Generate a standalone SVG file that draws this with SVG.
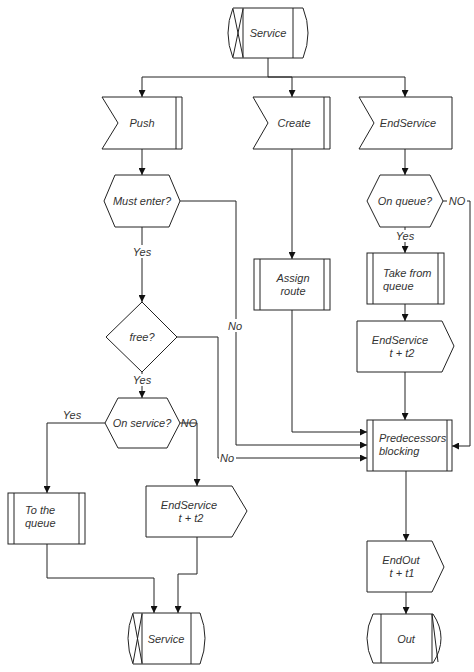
<svg xmlns="http://www.w3.org/2000/svg" width="474" height="672" viewBox="0 0 474 672">
<defs>
<marker id="arr" viewBox="0 0 10 10" refX="10" refY="5" markerWidth="7" markerHeight="7" markerUnits="userSpaceOnUse" orient="auto">
<path d="M0,0 L10,5 L0,10 Z" fill="#111"/>
</marker>
<style>
.s{fill:#fff;stroke:#222;stroke-width:1}
.l{fill:none;stroke:#222;stroke-width:1}
.c{fill:none;stroke:#222;stroke-width:1;marker-end:url(#arr)}
text{font-family:"Liberation Sans",Arial,sans-serif;font-size:11px;font-style:italic;fill:#333}
.m{text-anchor:middle}
.bg{fill:#fff;stroke:none}
</style>
</defs>
<rect width="474" height="672" fill="#fff"/>

<g id="connectors">
<path class="c" d="M268,58 V77 H142 V97"/>
<path class="c" d="M268,77 H292 V97"/>
<path class="c" d="M268,77 H405 V97"/>
<path class="c" d="M142,149 V175"/>
<path class="c" d="M142,227 V302"/>
<path class="c" d="M180,201 H236 V445 H367"/>
<path class="c" d="M142,372 V398"/>
<path class="c" d="M177,337 H218 V458 H367"/>
<path class="c" d="M105,423 H47 V493"/>
<path class="c" d="M180,423 H197 V486"/>
<path class="c" d="M292,149 V259"/>
<path class="c" d="M292,310 V432 H367"/>
<path class="c" d="M405,149 V175"/>
<path class="c" d="M405,227 V253"/>
<path class="c" d="M443,201 H470 V446 H452"/>
<path class="c" d="M405,304 V321"/>
<path class="c" d="M405,372 V420"/>
<path class="c" d="M406,471 V541"/>
<path class="c" d="M406,592 V614"/>
<path class="c" d="M47,544 V578 H154 V613"/>
<path class="c" d="M197,537 V574 H178 V613"/>
<rect class="bg" x="131" y="245" width="22" height="13"/>
<text class="m" x="142" y="256">Yes</text>
<rect class="bg" x="226" y="319" width="18" height="13"/>
<text class="m" x="235" y="330">No</text>
<rect class="bg" x="131" y="374" width="22" height="12"/>
<text class="m" x="142" y="384">Yes</text>
<rect class="bg" x="61" y="409" width="22" height="12"/>
<text class="m" x="72" y="419">Yes</text>
<text class="m" x="189" y="427">NO</text>
<rect class="bg" x="219" y="452" width="17" height="12"/>
<text class="m" x="227" y="462">No</text>
<rect class="bg" x="394" y="230" width="22" height="12"/>
<text class="m" x="405" y="240">Yes</text>
<rect class="bg" x="447" y="195" width="20" height="12"/>
<text class="m" x="457" y="205">NO</text>
</g>

<g id="service_top">
<path class="s" d="M233,8 H303 Q313,33 303,58 H233 Q223,33 233,8 Z"/>
<path class="l" d="M243,8 V58 M293,8 V58 M233,9 L243,57 M243,9 L233,57"/>
<text class="m" x="268" y="37">Service</text>
</g>

<g id="push">
<polygon class="s" points="102,97 182,97 182,149 102,149 118,123"/>
<line class="l" x1="176" y1="97" x2="176" y2="149"/>
<text class="m" x="142" y="127">Push</text>
</g>

<g id="create">
<polygon class="s" points="253,97 330,97 330,149 253,149 268,123"/>
<line class="l" x1="324" y1="97" x2="324" y2="149"/>
<text class="m" x="294" y="127">Create</text>
</g>

<g id="endservice">
<polygon class="s" points="359,97 452,97 452,149 359,149 374,123"/>
<text class="m" x="408" y="127">EndService</text>
</g>

<g id="must_enter">
<polygon class="s" points="104,201 115,175 169,175 180,201 169,227 115,227"/>
<text class="m" x="142" y="205">Must enter?</text>
</g>

<g id="free">
<polygon class="s" points="142,302 177,337 142,372 106,337"/>
<text class="m" x="142" y="341">free?</text>
</g>

<g id="on_service">
<polygon class="s" points="105,423 118,398 167,398 180,423 167,448 118,448"/>
<text class="m" x="142" y="427">On service?</text>
</g>

<g id="on_queue">
<polygon class="s" points="367,201 380,175 430,175 443,201 430,227 380,227"/>
<text class="m" x="405" y="205">On queue?</text>
</g>

<g id="assign_route">
<rect class="s" x="254" y="259" width="76" height="51"/>
<path class="l" d="M260,259 V310 M324,259 V310"/>
<text class="m" x="293" y="282">Assign</text>
<text class="m" x="293" y="295">route</text>
</g>

<g id="take_from_queue">
<rect class="s" x="367" y="253" width="77" height="51"/>
<path class="l" d="M373,253 V304 M438,253 V304"/>
<text x="383" y="277">Take from</text>
<text x="383" y="290">queue</text>
</g>

<g id="endservice_t2_right">
<polygon class="s" points="357,321 442,321 454,346 442,372 357,372"/>
<text class="m" x="400" y="344">EndService</text>
<text class="m" x="402" y="357">t + t2</text>
</g>

<g id="predecessors">
<rect class="s" x="367" y="420" width="85" height="51"/>
<path class="l" d="M373,420 V471 M447,420 V471"/>
<text x="379" y="442">Predecessors</text>
<text x="379" y="455">blocking</text>
</g>

<g id="to_the_queue">
<rect class="s" x="8" y="493" width="77" height="51"/>
<path class="l" d="M14,493 V544 M79,493 V544"/>
<text x="25" y="514">To the</text>
<text x="25" y="527">queue</text>
</g>

<g id="endservice_t2_left">
<polygon class="s" points="146,486 232,486 247,511 232,537 146,537"/>
<text class="m" x="189" y="509">EndService</text>
<text class="m" x="191" y="522">t + t2</text>
</g>

<g id="service_bottom">
<path class="s" d="M133,613 H200 Q210,638 200,664 H133 Q123,638 133,613 Z"/>
<path class="l" d="M142,613 V664 M191,613 V664 M133,614 L142,663 M142,614 L133,663"/>
<text class="m" x="166" y="643">Service</text>
</g>

<g id="endout">
<polygon class="s" points="367,541 432,541 444,567 432,592 367,592"/>
<text class="m" x="401" y="564">EndOut</text>
<text class="m" x="402" y="577">t + t1</text>
</g>

<g id="out">
<path class="s" d="M373,614 H433 Q449,638 433,663 H373 Q361,638 373,614 Z"/>
<path class="l" d="M381,614 V663 M432,614 V663 M432,614 L438,662"/>
<text class="m" x="406" y="643">Out</text>
</g>
</svg>
